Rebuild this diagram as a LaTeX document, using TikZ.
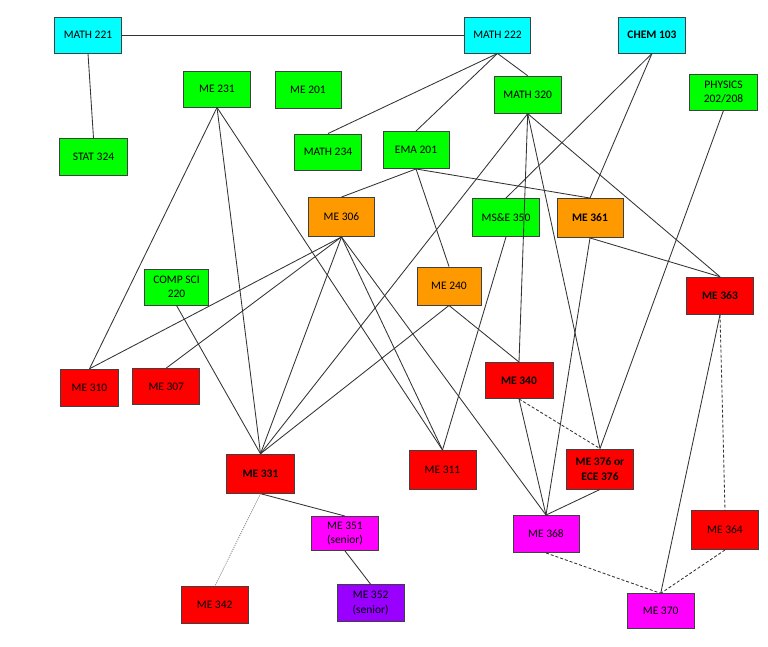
\documentclass[tikz,border=0pt]{standalone}
\usepackage{fontspec}
\setmainfont{Carlito}
\definecolor{cyanc}{HTML}{00FFFF}
\definecolor{greenc}{HTML}{00FF00}
\definecolor{orangec}{HTML}{FF9900}
\definecolor{redc}{HTML}{FF0000}
\definecolor{magc}{HTML}{FF00FF}
\definecolor{purpc}{HTML}{9900FF}
\definecolor{edgec}{HTML}{333333}
\definecolor{borderc}{HTML}{404040}
\begin{document}
\begin{tikzpicture}[x=1pt,y=-1pt,
  box/.style={draw=borderc, line width=0.9pt, inner sep=0pt, align=center,
    font=\fontsize{11.5}{14.5}\selectfont, minimum width=67pt, minimum height=37pt},
  cy/.style={box, fill=cyanc},
  gr/.style={box, fill=greenc},
  orc/.style={box, fill=orangec},
  rd/.style={box, fill=redc},
  mg/.style={box, fill=magc},
  pu/.style={box, fill=purpc},
  bf/.style={font=\fontsize{11.5}{14.5}\selectfont\bfseries},
  link/.style={draw=edgec, line width=0.85pt},
  dlink/.style={draw=edgec, line width=0.85pt, dash pattern=on 3pt off 2pt},
  olink/.style={draw=gray, line width=0.85pt, dash pattern=on 1pt off 1.2pt}]
\useasboundingbox (0,0) rectangle (768,647);
\fill[white] (0,0) rectangle (768,647);
% row 1
\node[cy, minimum height=36pt] (m221) at (88,35) {MATH 221};
\node[cy, minimum width=66pt, minimum height=36pt] (m222) at (497.5,35) {MATH 222};
\node[cy, bf, minimum height=36pt] (chem) at (652,35) {CHEM 103};
% row 2
\node[gr, minimum height=36pt] (me231) at (217,89) {ME 231};
\node[gr, minimum width=66pt] (me201) at (308,90) {ME 201};
\node[gr] (m320) at (527.7,94.7) {MATH 320};
\node[gr, minimum width=68pt, minimum height=36pt] (phys) at (723.5,92) {PHYSICS\\202/208};
\node[gr, minimum width=68pt] (stat) at (93.5,157) {STAT 324};
\node[gr, minimum height=36pt] (m234) at (328,152) {MATH 234};
\node[gr, minimum width=66pt] (ema) at (416,150) {EMA 201};
% row 3
\node[orc, minimum width=66pt, minimum height=39pt] (me306) at (341.5,217) {ME 306};
\node[gr, minimum height=38pt] (mse) at (506,217.5) {MS\&E 350};
\node[orc, bf, minimum width=66pt, minimum height=39pt] (me361) at (590,218) {ME 361};
\node[gr, minimum width=64pt, minimum height=36pt] (comp) at (176.5,287) {COMP SCI\\220};
\node[orc, minimum width=64pt, minimum height=38pt] (me240) at (449,286) {ME 240};
\node[rd, bf] (me363) at (720,295.7) {ME 363};
% row 4
\node[rd, minimum width=58pt] (me310) at (89.5,387.7) {ME 310};
\node[rd, minimum height=36pt] (me307) at (166.3,386.5) {ME 307};
\node[rd, bf, minimum width=68pt, minimum height=36pt] (me340) at (519,380.5) {ME 340};
\node[rd, bf, minimum width=68pt, minimum height=39pt] (me331) at (260.5,473.7) {ME 331};
\node[rd, minimum height=39pt] (me311) at (442.5,470) {ME 311};
\node[rd, bf, minimum height=40pt] (me376) at (600,469) {ME 376 or\\ECE 376};
% row 5
\node[mg, minimum height=34pt] (me351) at (345,533.5) {ME 351\\(senior)};
\node[mg, minimum width=66pt] (me368) at (546,534) {ME 368};
\node[rd, minimum height=39pt] (me364) at (725,530) {ME 364};
\node[rd] (me342) at (214.7,605.3) {ME 342};
\node[pu] (me352) at (370.7,603.3) {ME 352\\(senior)};
\node[mg, minimum height=35pt] (me370) at (660.7,611.3) {ME 370};
% connectors
\path[link] (m221.east) -- (m222.west);
\path[link] (m221.south) -- (stat.north);
\path[link] (m222.south) -- (m234.north);
\path[link] (m222.south) -- (ema.north);
\path[link] (m222.south) -- (m320.north);
\path[link] (chem.south) -- (mse.north);
\path[link] (chem.south) -- (me361.north);
\path[link] (phys.south) -- (me376.north);
\path[link] (ema.south) -- (me306.north);
\path[link] (ema.south) -- (me240.north);
\path[link] (ema.south) -- (me361.north);
\path[link] (m320.south) -- (me331.north);
\path[link] (m320.south) -- (me340.north);
\path[link] (m320.south) -- (me376.north);
\path[link] (m320.south) -- (me363.north);
\path[link] (me231.south) -- (me310.north);
\path[link] (me231.south) -- (me331.north);
\path[link] (me231.south) -- (me311.north);
\path[link] (me306.south) -- (me310.north);
\path[link] (me306.south) -- (me307.north);
\path[link] (me306.south) -- (me331.north);
\path[link] (me306.south) -- (me311.north);
\path[link] (me306.south) -- (me368.north);
\path[link] (comp.south) -- (me331.north);
\path[link] (me240.south) -- (me331.north);
\path[link] (me240.south) -- (me340.north);
\path[link] (mse.south) -- (me311.north);
\path[link] (me361.south) -- (me363.north);
\path[link] (me361.south) -- (me368.north);
\path[link] (me340.south) -- (me368.north);
\path[dlink] (me340.south) -- (me376.north);
\path[link] (me376.south) -- (me368.north);
\path[dlink] (me363.south) -- (me364.north);
\path[link] (me363.south) -- (me370.north);
\path[dlink] (me368.south) -- (me370.north);
\path[dlink] (me364.south) -- (me370.north);
\path[link] (me331.south) -- (me351.north);
\path[olink] (me331.south) -- (me342.north);
\path[link] (me351.south) -- (me352.north);
\end{tikzpicture}
\end{document}
